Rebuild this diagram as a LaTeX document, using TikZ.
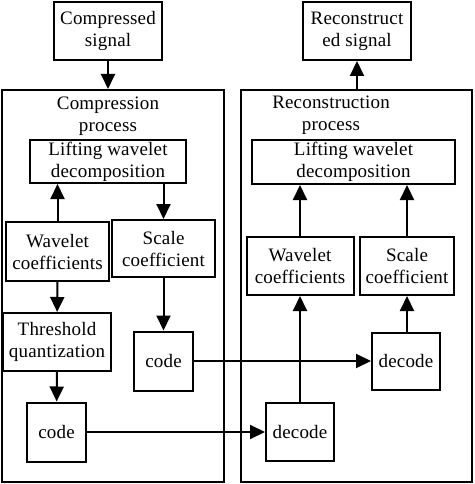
\documentclass[tikz,border=0pt]{standalone}
\usepackage{fontspec}
\setmainfont[LetterSpace=1]{Liberation Serif}
\usepackage{tikz}
\usetikzlibrary{arrows.meta, positioning}
\tikzstyle{block}    = [draw, line width=2pt, inner sep=0pt, align=center]
\tikzstyle{frame}    = [draw, line width=2pt, inner sep=0pt]
\tikzstyle{caption}  = [inner sep=0pt, align=center]
\tikzstyle{diredge}  = [line width=2pt, -{Triangle[length=15pt, width=14pt]}]

\begin{document}
\begin{tikzpicture}[
        x=1pt, y=-1pt,
        every node/.style={font=\fontsize{19}{22}\selectfont}
    ]
        \useasboundingbox (0,0) rectangle (474,484);

        % Signals
        \node[block, minimum width=108pt, minimum height=58pt]
            (csig) at (108,31) {Compressed\\signal};
        \node[block, minimum width=108pt, minimum height=58pt]
            (rsig) at (357,31) {Reconstruct\\ed signal};

        % Frames
        \node[frame, minimum width=222pt, minimum height=392pt]
            (compbox) at (113,286) {};
        \node[frame, minimum width=231pt, minimum height=392pt]
            (recbox) at (356.5,286) {};

        \node[caption] (comptitle) at (108,116) {Compression\\process};
        \node[caption] (rectitle) at (331,115) {Reconstruction\\process};

        % Compression
        \node[block, minimum width=156pt, minimum height=43pt]
            (liftL) at (108,161.5) {Lifting wavelet\\decomposition};
        \node[block, minimum width=103pt, minimum height=59pt]
            (wavL) at (57.5,251.5) {Wavelet\\coefficients};
        \node[block, minimum width=103pt, minimum height=57pt]
            (scaL) at (163.5,248.5) {Scale\\coefficient};
        \node[block, minimum width=108pt, minimum height=58pt]
            (thr) at (57,342) {Threshold\\quantization};
        \node[block, minimum width=59pt, minimum height=59pt]
            (codeU) at (163.5,361) {code};
        \node[block, minimum width=59pt, minimum height=59pt]
            (codeL) at (56.5,432) {code};

        % Reconstruction
        \node[block, minimum width=203pt, minimum height=44pt]
            (liftR) at (353.5,162) {Lifting wavelet\\decomposition};
        \node[block, minimum width=107pt, minimum height=58pt]
            (wavR) at (300,266) {Wavelet\\coefficients};
        \node[block, minimum width=94pt, minimum height=58pt]
            (scaR) at (407,266) {Scale\\coefficient};
        \node[block, minimum width=68pt, minimum height=57pt]
            (decU) at (406,361) {decode};
        \node[block, minimum width=68pt, minimum height=58pt]
            (decL) at (300,432) {decode};

        % Edges
        \draw[diredge] (csig) -- (csig |- compbox.north);
        \draw[diredge] (recbox.north -| rsig) -- (rsig);

        \draw[diredge] (wavL.north) -- (wavL.north |- liftL.south);
        \draw[diredge] (liftL.south -| scaL) -- (scaL.north);
        \draw[diredge] (wavL) -- (thr);
        \draw[diredge] (scaL) -- (codeU);
        \draw[diredge] (thr) -- (codeL);

        \draw[diredge] (codeU) -- (decU);
        \draw[diredge] (codeL) -- (decL);

        \draw[diredge] (decL) -- (wavR);
        \draw[diredge] (decU.north -| scaR) -- (scaR.south);
        \draw[diredge] (wavR.north) -- (wavR.north |- liftR.south);
        \draw[diredge] (scaR.north) -- (scaR.north |- liftR.south);

    \end{tikzpicture}
\end{document}
